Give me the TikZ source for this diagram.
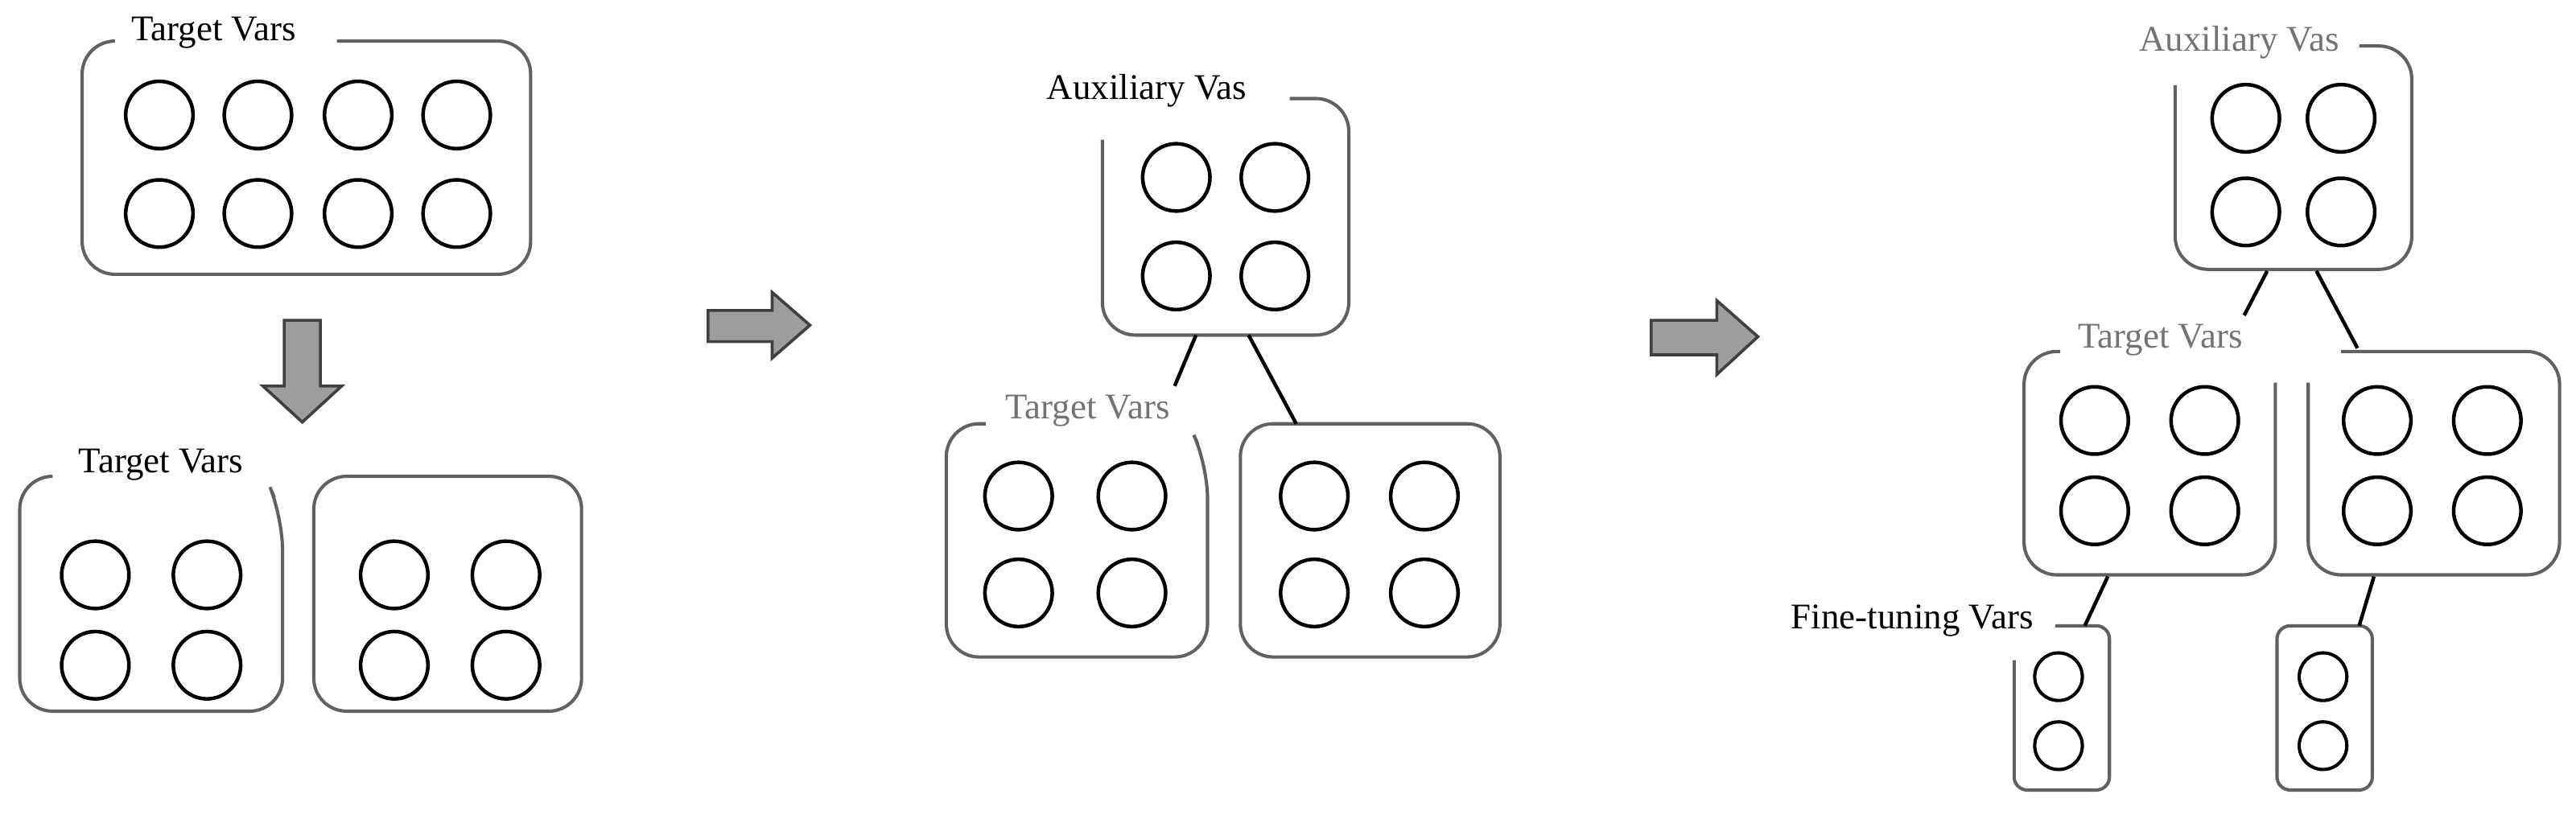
\documentclass[tikz,border=0pt]{standalone}
\usepackage{fontspec}
\setmainfont{Liberation Serif}
\begin{document}
\begin{tikzpicture}[x=1pt,y=-1pt,
  grp/.style={draw=black!62,line width=2pt,rounded corners=20pt},
  var/.style={circle,draw=black,line width=2.2pt,minimum size=41pt,inner sep=0pt},
  svar/.style={circle,draw=black,line width=2pt,minimum size=29pt,inner sep=0pt},
  link/.style={draw=black,line width=2.2pt},
  bigarrow/.style={draw=black!75,fill=black!38,line width=1.8pt,line join=miter},
  lbl/.style={font=\fontsize{22}{24}\selectfont,inner sep=0pt},
  glbl/.style={lbl,text=black!55}]
\useasboundingbox (0,0) rectangle (1568,496);
% ---------- panel 1 ----------
\draw[grp] (205,25) -- (323,25) -- (323,167) -- (50,167) -- (50,25) -- (68,25);
\node[lbl] (l1) at (130,20) {Target Vars};
\foreach \x [count=\i] in {97,157,218,278}{
  \node[var] (a\i) at (\x,70) {};
  \node[var] (b\i) at (\x,130) {};}
\draw[bigarrow] (173,195) -- (195,195) -- (195,235) -- (208,235) -- (184,257) -- (160,235) -- (173,235) -- cycle;
\draw[grp] (167,303) -- (172,315) -- (172,433) -- (12,433) -- (12,290) -- (32,290);
\node[lbl] (l2) at (98,283) {Target Vars};
\draw[grp] (191,290) rectangle (354,433);
\foreach \x/\n in {58/c,126/d,240/e,308/f}{
  \node[var] (\n1) at (\x,350) {};
  \node[var] (\n2) at (\x,405) {};}
\draw[bigarrow] (431,189) -- (470,189) -- (470,178) -- (493,198) -- (470,218) -- (470,208) -- (431,208) -- cycle;
% ---------- panel 2 ----------
\draw[grp] (785,60) -- (821,60) -- (821,204) -- (671,204) -- (671,85);
\node[lbl] (l3) at (698,55) {Auxiliary Vas};
\foreach \x/\n in {716/g,776/h}{
  \node[var] (\n1) at (\x,108) {};
  \node[var] (\n2) at (\x,168) {};}
\draw[grp] (729,270) -- (735,283) -- (735,400) -- (576,400) -- (576,258) -- (600,258);
\node[glbl] (l4) at (662,250) {Target Vars};
\draw[grp] (755,258) rectangle (913,400);
\foreach \x/\n in {620/i,689/j,800/k,867/m}{
  \node[var] (\n1) at (\x,302) {};
  \node[var] (\n2) at (\x,361) {};}
\coordinate (p1) at (728,204); \coordinate (q1) at (715,235);
\coordinate (p2) at (760,204); \coordinate (q2) at (789,258);
\draw[link] (p1) -- (q1); \draw[link] (p2) -- (q2);
\draw[bigarrow] (1005,195) -- (1045,195) -- (1045,183) -- (1070,205) -- (1045,228) -- (1045,216) -- (1005,216) -- cycle;
% ---------- panel 3 ----------
\draw[grp] (1436,28) -- (1468,28) -- (1468,164) -- (1324,164) -- (1324,52);
\node[glbl] (l5) at (1363,26) {Auxiliary Vas};
\foreach \x/\n in {1367/n,1425/o}{
  \node[var] (\n1) at (\x,72) {};
  \node[var] (\n2) at (\x,129) {};}
\draw[grp] (1385,233) -- (1385,350) -- (1232,350) -- (1232,214) -- (1254,214);
\node[glbl] (l6) at (1315,207) {Target Vars};
\draw[grp] (1425,214) -- (1558,214) -- (1558,350) -- (1405,350) -- (1405,233);
\foreach \x/\n in {1275/r,1342/s,1447/t,1514/u}{
  \node[var] (\n1) at (\x,256) {};
  \node[var] (\n2) at (\x,311) {};}
\coordinate (p3) at (1380,165); \coordinate (q3) at (1366,192);
\coordinate (p4) at (1410,165); \coordinate (q4) at (1435,212);
\draw[link] (p3) -- (q3); \draw[link] (p4) -- (q4);
\draw[grp,rounded corners=8pt] (1251,381) -- (1284,381) -- (1284,481) -- (1226,481) -- (1226,402);
\node[lbl] (l7) at (1164,378) {Fine-tuning Vars};
\draw[grp,rounded corners=8pt] (1386,381) rectangle (1444,481);
\foreach \x/\n in {1253/v,1414/w}{
  \node[svar] (\n1) at (\x,412) {};
  \node[svar] (\n2) at (\x,454) {};}
\coordinate (p5) at (1283,351); \coordinate (q5) at (1269,381);
\coordinate (p6) at (1445,351); \coordinate (q6) at (1436,381);
\draw[link] (p5) -- (q5); \draw[link] (p6) -- (q6);
\end{tikzpicture}
\end{document}
